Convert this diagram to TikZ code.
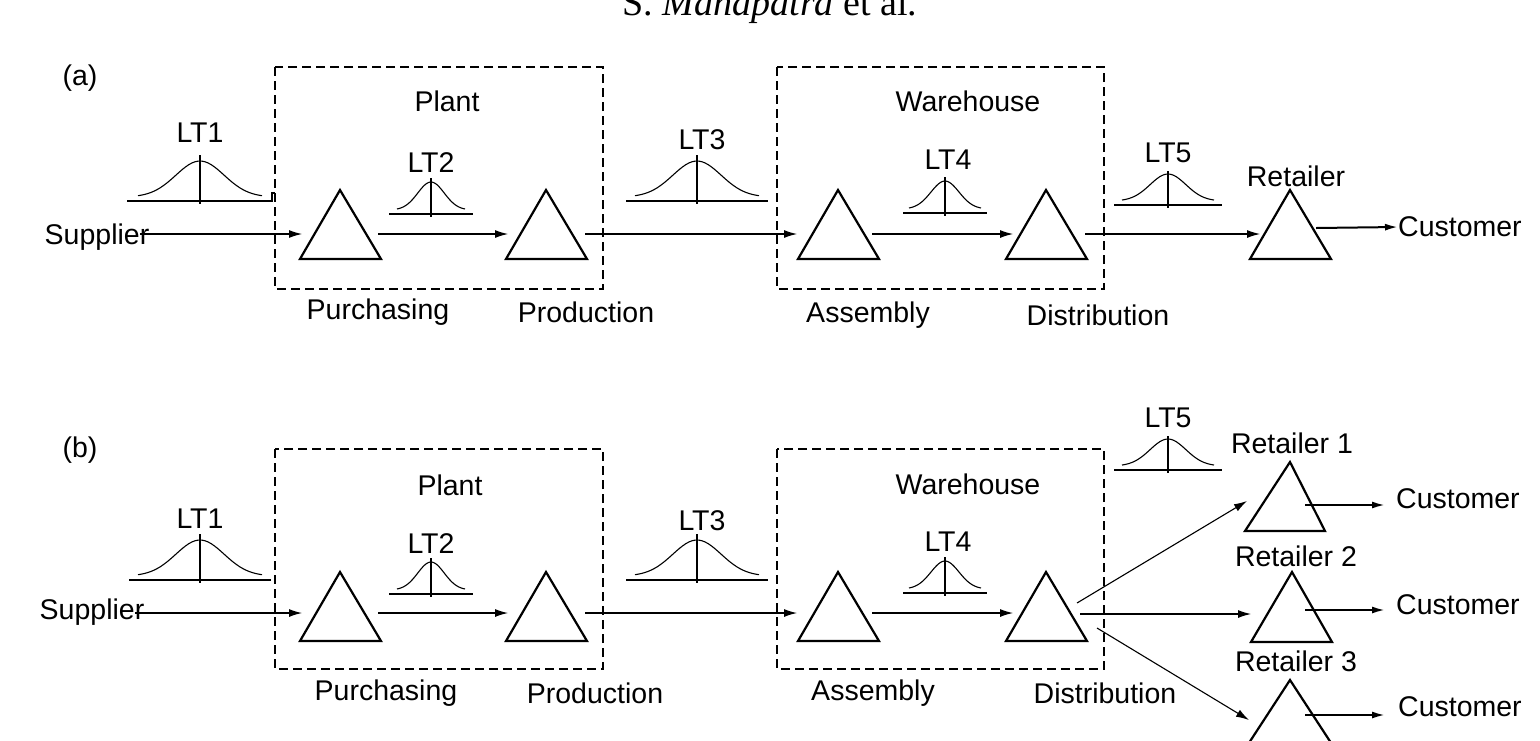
\documentclass[tikz,border=0pt]{standalone}
\usepackage{fontspec}
\setmainfont{Liberation Sans}
\newfontfamily\serifhead{Liberation Serif}
\usetikzlibrary{arrows.meta}
\tikzset{
  lbl/.style={font=\fontsize{28.5}{30}\selectfont, inner sep=0pt},
  tri/.style={line width=2.2pt, line join=miter},
  box/.style={line width=2.2pt, dash pattern=on 9pt off 5pt},
  flow/.style={line width=1.1pt, -{Latex[length=13pt,width=8pt]}},
  cust/.style={line width=2pt, -{Latex[length=13pt,width=7pt]}},
  base/.style={line width=1.6pt},
  curve/.style={line width=1.1pt},
}
\newcommand{\bellc}[6]{% cx, base y, half width of base, half width of curve, height, tick
  \draw[base] ({#1-#3},#2) -- ({#1+#3},#2);
  \draw[curve] plot[domain=-#4:#4, samples=40, smooth] ({#1+\x},{#2-4-(#5)*exp(-(\x/(#4*0.55))^2)});
  \draw[base] (#1,{#2-#6}) -- (#1,#2+3);
}
\newcommand{\trip}[3]{% name, apex x, apex y
  \draw[tri] (#2,#3) -- ({#2-40},{#3+69}) -- ({#2+41},{#3+69}) -- cycle;
  \coordinate (#1) at (#2,{#3+44});
}
\begin{document}
\begin{tikzpicture}[x=1pt,y=-1pt]
\useasboundingbox (0,0) rectangle (1540,740);
\begin{scope}
\clip (0,0) rectangle (1540,740);
\node[font=\serifhead\fontsize{38}{40}\selectfont, anchor=base, inner sep=0pt] (hdr) at (770,15) {S. \textit{Mahapatra} et al.};
\end{scope}

% ---------------- panel (a)
\node[lbl] (la) at (80,78) {(a)};
\draw[box] (275,67) rectangle (603,289);
\draw[box] (777,67) rectangle (1104,289);
\node[lbl] (plantA) at (447,101) {Plant};
\node[lbl] (whA) at (968,101) {Warehouse};
\trip{pA}{340}{190}
\trip{prA}{546}{190}
\trip{asA}{838}{190}
\trip{diA}{1046}{190}
\trip{reA}{1290}{190}
\node[lbl] (supA) at (97,237) {Supplier};
\node[lbl,anchor=west] (cuA) at (1398,227) {Customer};
\node[lbl] at (378,312) {Purchasing};
\node[lbl] at (586,312) {Production};
\node[lbl] at (868,315) {Assembly};
\node[lbl] at (1098,315) {Distribution};
\node[lbl] at (1296,176) {Retailer};
\coordinate (sA) at (140,234);
\draw[flow] (sA) -- (302,234);
\draw[flow] (378,234) -- (508,234);
\draw[flow] (585,234) -- (797,234);
\draw[flow] (872,234) -- (1013,234);
\draw[flow] (1085,234) -- (1260,234);
\draw[cust] (1316,228) -- (cuA.west);
\bellc{200}{201}{73}{62}{36}{46}
\draw[base] (270,201) -- (272,201) -- (272,193) -- (275,193);
\node[lbl] at (200,133) {LT1};
\bellc{431}{214}{42}{34}{28}{36}
\node[lbl] at (431,163) {LT2};
\bellc{697}{201}{71}{62}{36}{46}
\node[lbl] at (702,140) {LT3};
\bellc{945}{213}{42}{36}{28}{36}
\node[lbl] at (948,160) {LT4};
\bellc{1168}{205}{54}{46}{27}{34}
\node[lbl] at (1168,153) {LT5};

% ---------------- panel (b)
\node[lbl] (lb) at (80,450) {(b)};
\draw[box] (275,449) rectangle (603,669);
\draw[box] (777,449) rectangle (1104,669);
\node[lbl] at (450,485) {Plant};
\node[lbl] at (968,484) {Warehouse};
\trip{pB}{340}{572}
\trip{prB}{546}{572}
\trip{asB}{838}{572}
\trip{diB}{1046}{572}
\node[lbl] (supB) at (92,612) {Supplier};
\node[lbl] at (386,693) {Purchasing};
\node[lbl] at (595,693) {Production};
\node[lbl] at (873,693) {Assembly};
\node[lbl] at (1105,693) {Distribution};
\draw[flow] (135,613) -- (302,613);
\draw[flow] (378,613) -- (508,613);
\draw[flow] (585,613) -- (797,613);
\draw[flow] (872,613) -- (1013,613);
\bellc{200}{580}{71}{62}{36}{46}
\node[lbl] at (200,519) {LT1};
\bellc{431}{594}{42}{34}{28}{36}
\node[lbl] at (431,544) {LT2};
\bellc{697}{580}{71}{62}{36}{46}
\node[lbl] at (702,521) {LT3};
\bellc{945}{593}{42}{36}{28}{36}
\node[lbl] at (948,542) {LT4};
\bellc{1168}{470}{54}{46}{27}{34}
\node[lbl] at (1168,418) {LT5};
% retailers
\node[lbl] at (1292,443) {Retailer 1};
\node[lbl] at (1296,556) {Retailer 2};
\node[lbl] at (1296,661) {Retailer 3};
\draw[tri] (1290,462) -- (1245,531) -- (1325,531) -- cycle;
\draw[tri] (1292,572) -- (1251,642) -- (1332,642) -- cycle;
\draw[tri] (1290,680) -- (1245,749) -- (1335,749) -- cycle;
\node[lbl,anchor=west] (c1) at (1396,499) {Customer};
\node[lbl,anchor=west] (c2) at (1396,605) {Customer};
\node[lbl,anchor=west] (c3) at (1398,707) {Customer};
\draw[cust] (1305,505) -- (1385,505);
\draw[cust] (1305,610) -- (1385,610);
\draw[cust] (1305,715) -- (1385,715);
\draw[flow] (1077,603) -- (1247,501);
\draw[flow] (1080,614) -- (1251,614);
\draw[flow] (1097,628) -- (1249,720);
\end{tikzpicture}
\end{document}
